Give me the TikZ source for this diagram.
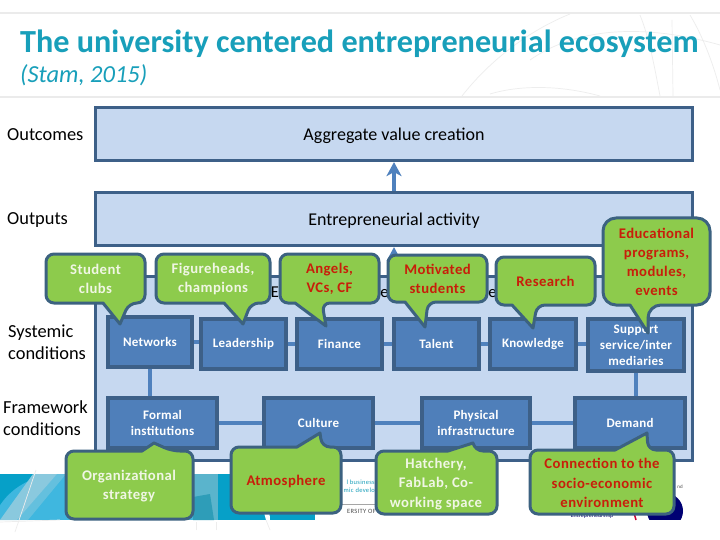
\documentclass[tikz,border=0pt]{standalone}
\usepackage{fontspec}
\setmainfont{Carlito}
\usetikzlibrary{arrows.meta}
\definecolor{bigfill}{HTML}{C6D8F0}
\definecolor{edge}{HTML}{3D6088}
\definecolor{boxfill}{HTML}{4F7FBA}
\definecolor{conn}{HTML}{4F81BD}
\definecolor{cofill}{HTML}{8DCB4C}
\definecolor{coedge}{HTML}{3C6280}
\definecolor{cored}{HTML}{C81E0A}
\definecolor{cowhite}{HTML}{F0F6E4}
\definecolor{teal}{HTML}{189FBA}
\definecolor{bandbase}{HTML}{3FB7DF}
\definecolor{banddark}{HTML}{06A0C8}
\definecolor{bandlight}{HTML}{8AC9DE}
\definecolor{bandgrey}{HTML}{5AB4CC}
\definecolor{bandpatch}{HTML}{2E9DB8}
\tikzset{
  x=1pt,y=-1pt,
  bigbox/.style={draw=edge,fill=bigfill,line width=3.2pt,inner sep=0pt,text height=13pt,text depth=0.5pt,font=\fontsize{18}{20}\selectfont,text=black},
  sbox/.style={draw=edge,fill=boxfill,line width=3.2pt,inner sep=0pt,align=center,text=white,font=\fontsize{13}{16}\selectfont\bfseries\addfontfeature{LetterSpace=2}},
  sidelabel/.style={anchor=west,align=left,inner sep=0pt,text=black,font=\fontsize{18.4}{22}\selectfont},
  link/.style={draw=conn,line width=3.4pt},
  arr/.style={draw=conn,line width=3.4pt,-{Stealth[length=14pt,width=15pt,inset=4pt]}},
  coshape/.style={draw=coedge,fill=cofill,line width=3pt,line join=round},
  cotxt/.style={align=center,inner sep=0pt,font=\fontsize{14.7}{19.5}\selectfont\bfseries\addfontfeature{LetterSpace=3}},
  tiny/.style={inner sep=0pt,font=\fontsize{6.5}{7}\selectfont\addfontfeature{LetterSpace=5}},
  faint/.style={draw=black!7,line width=0.7pt},
}
% corner radius; x1, far y, x2, near y; base left, tip x, tip y, base right
\newcommand{\callshape}[9][8]{%
  \draw[coshape,rounded corners=#1pt] (#6,#5) -- (#2,#5) -- (#2,#3) -- (#4,#3) -- (#4,#5) -- (#9,#5)
    [sharp corners] -- (#7,#8) -- cycle;}
\begin{document}
\begin{tikzpicture}
\useasboundingbox (0,0) rectangle (720,540);
\fill[white] (0,0) rectangle (720,540);
% slide background
\draw[draw=black!8,line width=1.4pt] (0,13) -- (720,13);
\draw[draw=black!8,line width=1.4pt] (0,97) -- (720,97);
\draw[faint] (462,96) .. controls (490,60) and (530,30) .. (570,14);
\draw[faint] (490,94) .. controls (520,85) and (560,85) .. (600,96);
\draw[faint] (530,60) .. controls (580,25) and (650,25) .. (720,45);
\draw[faint] (672,20) -- (673,96);
\draw[faint] (640,15) .. controls (650,40) and (655,70) .. (660,96);
\draw[faint] (690,15) .. controls (705,40) and (715,70) .. (720,90);
% banner
\fill[fill=bandbase] (0,474) rectangle (193,520);
\fill[fill=banddark] (0,474) -- (48,474) .. controls (25,480) and (10,490) .. (0,505) -- cycle;
\fill[fill=bandlight] (0,520) -- (33,474) -- (57,474) -- (17,520) -- cycle;
\fill[fill=bandlight,opacity=0.5] (17,520) -- (57,474) -- (66,474) -- (28,520) -- cycle;
\fill[fill=bandgrey] (193,474) rectangle (218,520);
\fill[fill=bandpatch] (193,497) -- (210,494) -- (214,520) -- (193,520) -- cycle;
\fill[fill=banddark] (218,474) rectangle (315,520);
\fill[fill=white] (262,505) -- (269,505) -- (270,520) -- (266,520) -- cycle;
\draw[faint] (15,532) -- (36,470);
\draw[faint] (0,522) -- (60,520);
\draw[faint] (196,530) -- (196,522);
\draw[faint] (216,530) -- (216,522);
\draw[faint] (270,530) -- (266,520);
\node[tiny,text=teal,anchor=east] (frag1) at (375,482) {l business};
\node[tiny,text=teal,anchor=east] (frag2) at (375,490) {mic develo};
\draw[draw=black!35,line width=0.8pt] (340,504) -- (376,504);
\node[tiny,text=black!70,anchor=east] (frag3) at (376,511) {ERSITY OF};
\node[inner sep=0pt,text=blue!40!black,font=\fontsize{6}{7}\selectfont] (frag4) at (592,516) {Entrepreneurship};
\node[inner sep=0pt,text=black!70,font=\fontsize{5}{6}\selectfont] (frag5) at (680,487) {nd};
\begin{scope}
\clip (640,480) rectangle (690,519);
\fill[fill=blue!45!black] (665,511) circle (18);
\end{scope}
\draw[draw=purple!80!red,line width=1.5pt] (634,513) -- (636,520);
% title
\node[anchor=west,inner sep=0pt,text=teal,font=\fontsize{32.2}{36}\selectfont\bfseries] (title) at (20,44) {The university centered entrepreneurial ecosystem};
\node[anchor=west,inner sep=0pt,text=teal,font=\fontsize{24.5}{28}\selectfont\itshape] (sub) at (20,75) {(Stam, 2015)};
% big boxes
\node[bigbox,minimum width=597pt,minimum height=53pt] (aggr) at (394,134) {Aggregate value creation};
\node[bigbox,minimum width=597pt,minimum height=53pt] (act) at (394,219) {Entrepreneurial activity};
\node[draw=edge,fill=bigfill,line width=3.2pt,minimum width=597pt,minimum height=184pt,inner sep=0pt] (eco) at (394,368.5) {};
\node[inner sep=0pt,text=black,font=\fontsize{16.6}{20}\selectfont] (ecotxt) at (394,293) {Entrepreneurial ecosystem elements};
\draw[arr] (act.north -| aggr.south) -- (aggr.south);
\draw[arr] (eco.north) -- (act.south);
% side labels
\node[sidelabel] (l1) at (7,135) {Outcomes};
\node[sidelabel] (l2) at (7,220) {Outputs};
\node[sidelabel] (l3) at (8,342) {Systemic\\conditions};
\node[sidelabel] (l4) at (3,418) {Framework\\conditions};
% small boxes
\node[sbox,minimum width=84pt,minimum height=50pt] (net) at (150,342) {Networks};
\node[sbox,minimum width=85pt,minimum height=50pt] (lead) at (243.5,344) {Leadership};
\node[sbox,minimum width=85pt,minimum height=50pt] (fin) at (339.5,344) {Finance};
\node[sbox,minimum width=85pt,minimum height=50pt] (tal) at (436.5,344) {Talent};
\node[sbox,minimum width=86pt,minimum height=50pt] (know) at (533,344) {Knowledge};
\node[sbox,minimum width=96pt,minimum height=52pt] (supp) at (636,345) {Support\\service/inter\\mediaries};
\node[sbox,minimum width=109pt,minimum height=50pt] (form) at (162.5,423) {Formal\\institutions};
\node[sbox,minimum width=109pt,minimum height=50pt] (cult) at (318.5,423) {Culture};
\node[sbox,minimum width=108pt,minimum height=50pt] (phys) at (476,423) {Physical\\infrastructure};
\node[sbox,minimum width=110pt,minimum height=50pt] (dem) at (630,423) {Demand};
% connectors
\draw[link] (net.east) -- (net.east -| lead.west);
\draw[link] (lead) -- (fin);
\draw[link] (fin) -- (tal);
\draw[link] (tal) -- (know);
\draw[link] (know) -- (supp.west |- know);
\draw[link] (form) -- (cult);
\draw[link] (cult) -- (phys);
\draw[link] (phys) -- (dem);
\draw[link] (net.south) -- (net.south |- form.north);
\draw[link] (supp.south) -- (supp.south |- dem.north);
% callouts
\callshape{46}{254}{145}{303}{103}{120}{324}{129}
\node[cotxt,text=cowhite] (c1) at (95.5,279) {Student\\clubs};
\callshape{156}{254}{270}{303}{224}{243}{324}{251}
\node[cotxt,text=cowhite] (c2) at (213,279) {Figureheads,\\champions};
\callshape{280}{254}{379}{303}{295}{326}{326}{322}
\node[cotxt,text=cored] (c3) at (329.5,279) {Angels,\\VCs, CF};
\callshape{388}{255}{487}{302}{405}{425}{327}{428}
\node[cotxt,text=cored] (c4) at (437.5,279) {Motivated\\students};
\callshape{496}{257}{595}{305}{512}{533}{328}{537}
\node[cotxt,text=cored] (c5) at (545.5,281) {Research};
\callshape[13]{603}{218}{710}{305}{630}{648}{333}{648}
\node[cotxt,text=cored,font=\fontsize{14.7}{19}\selectfont\bfseries\addfontfeature{LetterSpace=3}] (c6) at (656.5,262) {Educational\\programs,\\modules,\\events};
\callshape{66}{519}{193}{451}{142}{154}{443}{172}
\node[cotxt,text=cowhite] (c7) at (129,486) {Organizational\\strategy};
\callshape{231}{513}{341}{447}{297}{320}{433}{322}
\node[cotxt,text=cored] (c8) at (286,481) {Atmosphere};
\callshape{376}{514}{497}{451}{448}{473}{443}{475}
\node[cotxt,text=cowhite] (c9) at (436,484) {Hatchery,\\FabLab, Co-\\working space};
\callshape{530}{514}{674}{450}{615}{647}{433}{648}
\node[cotxt,text=cored] (c10) at (602,483) {Connection to the\\socio-economic\\environment};
\end{tikzpicture}
\end{document}
